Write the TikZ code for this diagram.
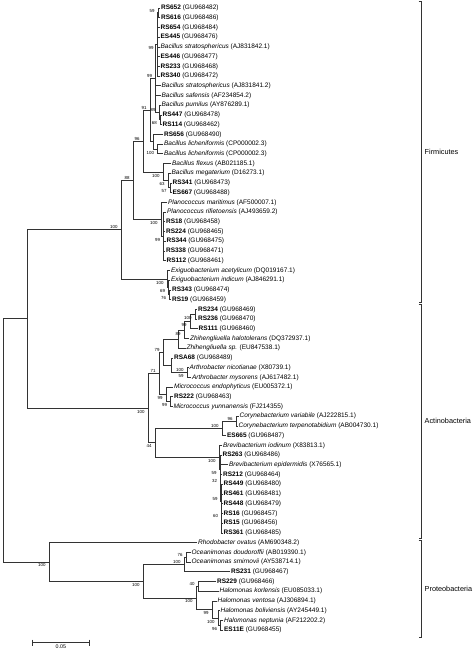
\documentclass[tikz,border=0pt]{standalone}
\usepackage{fontspec}
\setmainfont{Liberation Sans}
\definecolor{treeLine}{HTML}{333333}
\newcommand\leaffont{\fontsize{6.5}{7.5}\selectfont}
\newcommand\bootfont{\fontsize{4.4}{5}\selectfont}
\newcommand\isolate[2]{\textbf{#1} (#2)}
\newcommand\species[2]{\textit{#1} (#2)}
\newcommand\rowy[1]{8+(#1-1)*9.72}
\tikzset{
  branch/.style={draw=treeLine, line width=0.75pt},
  leaf/.style={anchor=west, inner sep=0.9pt, font=\leaffont},
  boot/.style={font=\bootfont, inner sep=0.3pt},
  bootup/.style={boot, anchor=south east, xshift=-3pt, yshift=0.3pt},
  bootdn/.style={boot, anchor=north east, xshift=-3pt, yshift=-1.5pt},
  cladebar/.style={draw=treeLine, line width=0.7pt},
  cladelabel/.style={anchor=west, inner sep=0pt, font=\fontsize{7.3}{8.5}\selectfont},
  scalebar/.style={draw=treeLine, line width=0.6pt, |-|}
}
\begin{document}
\begin{tikzpicture}[x=1pt, y=-1pt]
  \fill[white] (0,0) rectangle (474,651);
  \useasboundingbox (0,0) rectangle (474,651);

  % Firmicutes leaves
  \node[leaf] (l1) at (160,{\rowy{1}}) {\isolate{RS652}{GU968482}};
  \node[leaf] (l2) at (160,{\rowy{2}}) {\isolate{RS616}{GU968486}};
  \node[leaf] (l3) at (159.5,{\rowy{3}}) {\isolate{RS654}{GU968484}};
  \node[leaf] (l4) at (159.5,{\rowy{4}}) {\isolate{ES445}{GU968476}};
  \node[leaf] (l5) at (159.5,{\rowy{5}}) {\species{Bacillus stratosphericus}{AJ831842.1}};
  \node[leaf] (l6) at (159.5,{\rowy{6}}) {\isolate{ES446}{GU968477}};
  \node[leaf] (l7) at (159.5,{\rowy{7}}) {\isolate{RS233}{GU968468}};
  \node[leaf] (l8) at (159.5,{\rowy{8}}) {\isolate{RS340}{GU968472}};
  \node[leaf] (l9) at (160.5,{\rowy{9}}) {\species{Bacillus stratosphericus}{AJ831841.2}};
  \node[leaf] (l10) at (160.5,{\rowy{10}}) {\species{Bacillus safensis}{AF234854.2}};
  \node[leaf] (l11) at (160.5,{\rowy{11}}) {\species{Bacillus pumilus}{AY876289.1}};
  \node[leaf] (l12) at (161.5,{\rowy{12}}) {\isolate{RS447}{GU968478}};
  \node[leaf] (l13) at (161.5,{\rowy{13}}) {\isolate{RS114}{GU968462}};
  \node[leaf] (l14) at (163,{\rowy{14}}) {\isolate{RS656}{GU968490}};
  \node[leaf] (l15) at (163,{\rowy{15}}) {\species{Bacillus licheniformis}{CP000002.3}};
  \node[leaf] (l16) at (163,{\rowy{16}}) {\species{Bacillus licheniformis}{CP000002.3}};
  \node[leaf] (l17) at (171,{\rowy{17}}) {\species{Bacillus flexus}{AB021185.1}};
  \node[leaf] (l18) at (170.5,{\rowy{18}}) {\species{Bacillus megaterium}{D16273.1}};
  \node[leaf] (l19) at (171.5,{\rowy{19}}) {\isolate{RS341}{GU968473}};
  \node[leaf] (l20) at (171.5,{\rowy{20}}) {\isolate{ES667}{GU968488}};
  \node[leaf] (l21) at (167,{\rowy{21}}) {\species{Planococcus maritimus}{AF500007.1}};
  \node[leaf] (l22) at (166,{\rowy{22}}) {\species{Planococcus rifietoensis}{AJ493659.2}};
  \node[leaf] (l23) at (165,{\rowy{23}}) {\isolate{RS18}{GU968458}};
  \node[leaf] (l24) at (165,{\rowy{24}}) {\isolate{RS224}{GU968465}};
  \node[leaf] (l25) at (165.5,{\rowy{25}}) {\isolate{RS344}{GU968475}};
  \node[leaf] (l26) at (165,{\rowy{26}}) {\isolate{RS338}{GU968471}};
  \node[leaf] (l27) at (165.5,{\rowy{27}}) {\isolate{RS112}{GU968461}};
  \node[leaf] (l28) at (170,{\rowy{28}}) {\species{Exiguobacterium acetylicum}{DQ019167.1}};
  \node[leaf] (l29) at (170,{\rowy{29}}) {\species{Exiguobacterium indicum}{AJ846291.1}};
  \node[leaf] (l30) at (171,{\rowy{30}}) {\isolate{RS343}{GU968474}};
  \node[leaf] (l31) at (171,{\rowy{31}}) {\isolate{RS19}{GU968459}};
  % Actinobacteria leaves
  \node[leaf] (l32) at (197,{\rowy{32}}) {\isolate{RS234}{GU968469}};
  \node[leaf] (l33) at (197,{\rowy{33}}) {\isolate{RS236}{GU968470}};
  \node[leaf] (l34) at (197.5,{\rowy{34}}) {\isolate{RS111}{GU968460}};
  \node[leaf] (l35) at (189,{\rowy{35}}) {\species{Zhihengliuella halotolerans}{DQ372937.1}};
  \node[leaf] (l36) at (185.5,{\rowy{36}}) {\species{Zhihengliuella sp.}{EU847538.1}};
  \node[leaf] (l37) at (173,{\rowy{37}}) {\isolate{RSA68}{GU968489}};
  \node[leaf] (l38) at (188.5,{\rowy{38}}) {\species{Arthrobacter nicotianae}{X80739.1}};
  \node[leaf] (l39) at (191,{\rowy{39}}) {\species{Arthrobacter mysorens}{AJ617482.1}};
  \node[leaf] (l40) at (173,{\rowy{40}}) {\species{Micrococcus endophyticus}{EU005372.1}};
  \node[leaf] (l41) at (173,{\rowy{41}}) {\isolate{RS222}{GU968463}};
  \node[leaf] (l42) at (172.5,{\rowy{42}}) {\species{Micrococcus yunnanensis}{FJ214355}};
  \node[leaf] (l43) at (238.5,{\rowy{43}}) {\species{Corynebacterium variabile}{AJ222815.1}};
  \node[leaf] (l44) at (237.5,{\rowy{44}}) {\species{Corynebacterium terpenotabidium}{AB004730.1}};
  \node[leaf] (l45) at (226,{\rowy{45}}) {\isolate{ES665}{GU968487}};
  \node[leaf] (l46) at (222,{\rowy{46}}) {\species{Brevibacterium iodinum}{X83813.1}};
  \node[leaf] (l47) at (221.5,{\rowy{47}}) {\isolate{RS263}{GU968486}};
  \node[leaf] (l48) at (228,{\rowy{48}}) {\species{Brevibacterium epidermidis}{X76565.1}};
  \node[leaf] (l49) at (222,{\rowy{49}}) {\isolate{RS212}{GU968464}};
  \node[leaf] (l50) at (222.5,{\rowy{50}}) {\isolate{RS449}{GU968480}};
  \node[leaf] (l51) at (222.5,{\rowy{51}}) {\isolate{RS461}{GU968481}};
  \node[leaf] (l52) at (222.5,{\rowy{52}}) {\isolate{RS448}{GU968479}};
  \node[leaf] (l53) at (222.5,{\rowy{53}}) {\isolate{RS16}{GU968457}};
  \node[leaf] (l54) at (222.5,{\rowy{54}}) {\isolate{RS15}{GU968456}};
  \node[leaf] (l55) at (222.5,{\rowy{55}}) {\isolate{RS361}{GU968485}};
  % Proteobacteria leaves
  \node[leaf] (l56) at (197,{\rowy{56}}) {\species{Rhodobacter ovatus}{AM690348.2}};
  \node[leaf] (l57) at (190.5,{\rowy{57}}) {\species{Oceanimonas doudoroffii}{AB019390.1}};
  \node[leaf] (l58) at (190.5,{\rowy{58}}) {\species{Oceanimonas smirnovii}{AY538714.1}};
  \node[leaf] (l59) at (230,{\rowy{59}}) {\isolate{RS231}{GU968467}};
  \node[leaf] (l60) at (216,{\rowy{60}}) {\isolate{RS229}{GU968466}};
  \node[leaf] (l61) at (218.5,{\rowy{61}}) {\species{Halomonas korlensis}{EU085033.1}};
  \node[leaf] (l62) at (216.5,{\rowy{62}}) {\species{Halomonas ventosa}{AJ306894.1}};
  \node[leaf] (l63) at (219.5,{\rowy{63}}) {\species{Halomonas boliviensis}{AY245449.1}};
  \node[leaf] (l64) at (223,{\rowy{64}}) {\species{Halomonas neptunia}{AF212202.2}};
  \node[leaf] (l65) at (223,{\rowy{65}}) {\isolate{ES11E}{GU968455}};

  % internal nodes
  \coordinate (n59) at (158,12.86);
  \coordinate (g1) at (157,44.45);
  \coordinate (n68) at (160.2,119.78);
  \coordinate (n89) at (159,112.49);
  \coordinate (pum) at (155.5,78.47);
  \coordinate (nl) at (157.5,148.94);
  \coordinate (lich) at (153,141.65);
  \coordinate (n91) at (150,110.06);
  \coordinate (n57) at (170,187.82);
  \coordinate (n63) at (168,180.53);
  \coordinate (meg) at (163,172.03);
  \coordinate (bac) at (143,141.05);
  \coordinate (npla) at (163.5,236.42);
  \coordinate (pla) at (161,219.41);
  \coordinate (bp) at (133,180.23);
  \coordinate (n76) at (169.5,294.74);
  \coordinate (n69) at (168.5,287.45);
  \coordinate (ex) at (167,278.95);
  \coordinate (firm) at (121,229.59);
  \coordinate (na) at (195,314.18);
  \coordinate (nb) at (190,321.47);
  \coordinate (nc) at (184,329.98);
  \coordinate (nd) at (178,339.09);
  \coordinate (nap) at (187,372.5);
  \coordinate (narth) at (171,365.21);
  \coordinate (n79) at (163,352.15);
  \coordinate (nmic2) at (170.5,401.66);
  \coordinate (nmic) at (166,394.37);
  \coordinate (n71) at (159,373.26);
  \coordinate (ncor2) at (236,421.1);
  \coordinate (ncor) at (222,428.39);
  \coordinate (b5) at (221.5,518.3);
  \coordinate (b4) at (221,501.29);
  \coordinate (b3) at (220.5,483.07);
  \coordinate (b2) at (220,469.1);
  \coordinate (b1) at (219,457.25);
  \coordinate (n44) at (155,442.82);
  \coordinate (act) at (148,408.04);
  \coordinate (fa) at (27,318.82);
  \coordinate (noc1) at (186,557.18);
  \coordinate (noc) at (184,564.47);
  \coordinate (nhal4) at (220.5,625.22);
  \coordinate (nhal3) at (218,617.93);
  \coordinate (nhal2) at (212,609.43);
  \coordinate (n40) at (198,586.34);
  \coordinate (nhal) at (196,597.89);
  \coordinate (pr2) at (143,581.18);
  \coordinate (prot) at (49,561.89);
  \coordinate (root) at (3,440.36);

  % branches
  \draw[branch] (l1.west) -| (n59) (l2.west) -| (n59);
  \draw[branch] (n59) -| (g1) (l3.west) -| (g1) (l4.west) -| (g1) (l5.west) -| (g1)
    (l6.west) -| (g1) (l7.west) -| (g1) (l8.west) -| (g1);
  \draw[branch] (l12.west) -| (n68) (l13.west) -| (n68);
  \draw[branch] (l11.west) -| (n89) (n68) -| (n89);
  \draw[branch] (g1) -| (pum) (l9.west) -| (pum) (l10.west) -| (pum) (n89) -| (pum);
  \draw[branch] (l15.west) -| (nl) (l16.west) -| (nl);
  \draw[branch] (l14.west) -| (lich) (nl) -| (lich);
  \draw[branch] (pum) -| (n91) (lich) -| (n91);
  \draw[branch] (l19.west) -| (n57) (l20.west) -| (n57);
  \draw[branch] (l18.west) -| (n63) (n57) -| (n63);
  \draw[branch] (l17.west) -| (meg) (n63) -| (meg);
  \draw[branch] (n91) -| (bac) (meg) -| (bac);
  \foreach \c in {l22,l23,l24,l25,l26,l27}
    \draw[branch] (\c.west) -| (npla);
  \draw[branch] (l21.west) -| (pla) (npla) -| (pla);
  \draw[branch] (bac) -| (bp) (pla) -| (bp);
  \draw[branch] (l30.west) -| (n76) (l31.west) -| (n76);
  \draw[branch] (l29.west) -| (n69) (n76) -| (n69);
  \draw[branch] (l28.west) -| (ex) (n69) -| (ex);
  \draw[branch] (bp) -| (firm) (ex) -| (firm);

  \draw[branch] (l32.west) -| (na) (l33.west) -| (na);
  \draw[branch] (na) -| (nb) (l34.west) -| (nb);
  \draw[branch] (nb) -| (nc) (l35.west) -| (nc);
  \draw[branch] (nc) -| (nd) (l36.west) -| (nd);
  \draw[branch] (l38.west) -| (nap) (l39.west) -| (nap);
  \draw[branch] (l37.west) -| (narth) (nap) -| (narth);
  \draw[branch] (nd) -| (n79) (narth) -| (n79);
  \draw[branch] (l41.west) -| (nmic2) (l42.west) -| (nmic2);
  \draw[branch] (l40.west) -| (nmic) (nmic2) -| (nmic);
  \draw[branch] (n79) -| (n71) (nmic) -| (n71);
  \draw[branch] (l43.west) -| (ncor2) (l44.west) -| (ncor2);
  \draw[branch] (ncor2) -| (ncor) (l45.west) -| (ncor);
  \foreach \c in {l52,l53,l54,l55}
    \draw[branch] (\c.west) -| (b5);
  \draw[branch] (l50.west) -| (b4) (l51.west) -| (b4) (b5) -| (b4);
  \draw[branch] (l48.west) -| (b3) (l49.west) -| (b3) (b4) -| (b3);
  \draw[branch] (l47.west) -| (b2) (b3) -| (b2);
  \draw[branch] (l46.west) -| (b1) (b2) -| (b1);
  \draw[branch] (ncor) -| (n44) (b1) -| (n44);
  \draw[branch] (n71) -| (act) (n44) -| (act);
  \draw[branch] (firm) -| (fa) (act) -| (fa);

  \draw[branch] (l57.west) -| (noc1) (l58.west) -| (noc1);
  \draw[branch] (noc1) -| (noc) (l59.west) -| (noc);
  \draw[branch] (l64.west) -| (nhal4) (l65.west) -| (nhal4);
  \draw[branch] (l63.west) -| (nhal3) (nhal4) -| (nhal3);
  \draw[branch] (l62.west) -| (nhal2) (nhal3) -| (nhal2);
  \draw[branch] (l60.west) -| (n40) (l61.west) -| (n40);
  \draw[branch] (n40) -| (nhal) (nhal2) -| (nhal);
  \draw[branch] (noc) -| (pr2) (nhal) -| (pr2);
  \draw[branch] (l56.west) -| (prot) (pr2) -| (prot);
  \draw[branch] (fa) -| (root) (prot) -| (root);

  % bootstrap values
  \node[bootup] at (firm) {100};
  \node[bootup] at (bp) {88};
  \node[bootup] at (bac) {96};
  \node[bootup] at (n91) {91};
  \node[bootup] at (pum) {99};
  \node[bootdn] at (g1) {99};
  \node[bootup] at (n59) {59};
  \node[bootup] at (n89) {89};
  \node[bootdn] at (n68) {68};
  \node[bootdn] at (nl) {100};
  \node[bootdn] at (meg) {100};
  \node[bootdn] at (n63) {63};
  \node[bootdn] at (n57) {57};
  \node[bootdn] at (pla) {100};
  \node[bootdn] at (npla) {99};
  \node[bootdn] at (ex) {100};
  \node[bootdn] at (n69) {69};
  \node[bootdn] at (n76) {76};
  \node[bootdn] at (act) {100};
  \node[bootup] at (n71) {71};
  \node[bootup] at (n79) {79};
  \node[bootdn] at (na) {100};
  \node[bootdn] at (nb) {99};
  \node[bootdn] at (nc) {89};
  \node[bootup] at (nap) {100};
  \node[bootdn] at (nap) {59};
  \node[bootdn] at (nmic) {99};
  \node[bootdn] at (nmic2) {99};
  \node[bootdn] at (n44) {44};
  \node[bootup] at (ncor) {100};
  \node[bootup] at (ncor2) {96};
  \node[bootdn] at (b1) {100};
  \node[bootdn] at (b2) {59};
  \node[bootup] at (b3) {32};
  \node[bootup] at (b4) {59};
  \node[bootup] at (b5) {60};
  \node[bootdn] at (prot) {100};
  \node[bootdn] at (pr2) {100};
  \node[bootup] at (noc1) {76};
  \node[bootup] at (noc) {100};
  \node[bootup] at (n40) {40};
  \node[bootdn] at (nhal) {100};
  \node[bootdn] at (nhal2) {99};
  \node[bootdn] at (nhal3) {100};
  \node[bootdn] at (nhal4) {96};

  % scale bar
  \coordinate (sbl) at (32.3,642.7);
  \coordinate (sbr) at (89.3,642.7);
  \draw[scalebar] (sbl) -- (sbr);
  \node[boot, font=\fontsize{5.3}{6}\selectfont, anchor=north] (sbtext) at (60.8,644.3) {0.05};

  % clade brackets
  \coordinate (fTop) at (421.5,1);
  \coordinate (fBot) at (421.5,302);
  \coordinate (aTop) at (421.5,304.5);
  \coordinate (aBot) at (421.5,538);
  \coordinate (pTop) at (421.5,540.5);
  \coordinate (pBot) at (421.5,637);
  \draw[cladebar] ([xshift=-3pt]fTop) -- (fTop) -- (fBot) -- ([xshift=-3pt]fBot);
  \draw[cladebar] ([xshift=-3pt]aTop) -- (aTop) -- (aBot) -- ([xshift=-3pt]aBot);
  \draw[cladebar] ([xshift=-3pt]pTop) -- (pTop) -- (pBot) -- ([xshift=-3pt]pBot);
  \node[cladelabel] (firmLab) at (424.5,151.5) {Firmicutes};
  \node[cladelabel] (actLab) at (424.5,421.2) {Actinobacteria};
  \node[cladelabel] (protLab) at (424.5,588.8) {Proteobacteria};
\end{tikzpicture}
\end{document}
